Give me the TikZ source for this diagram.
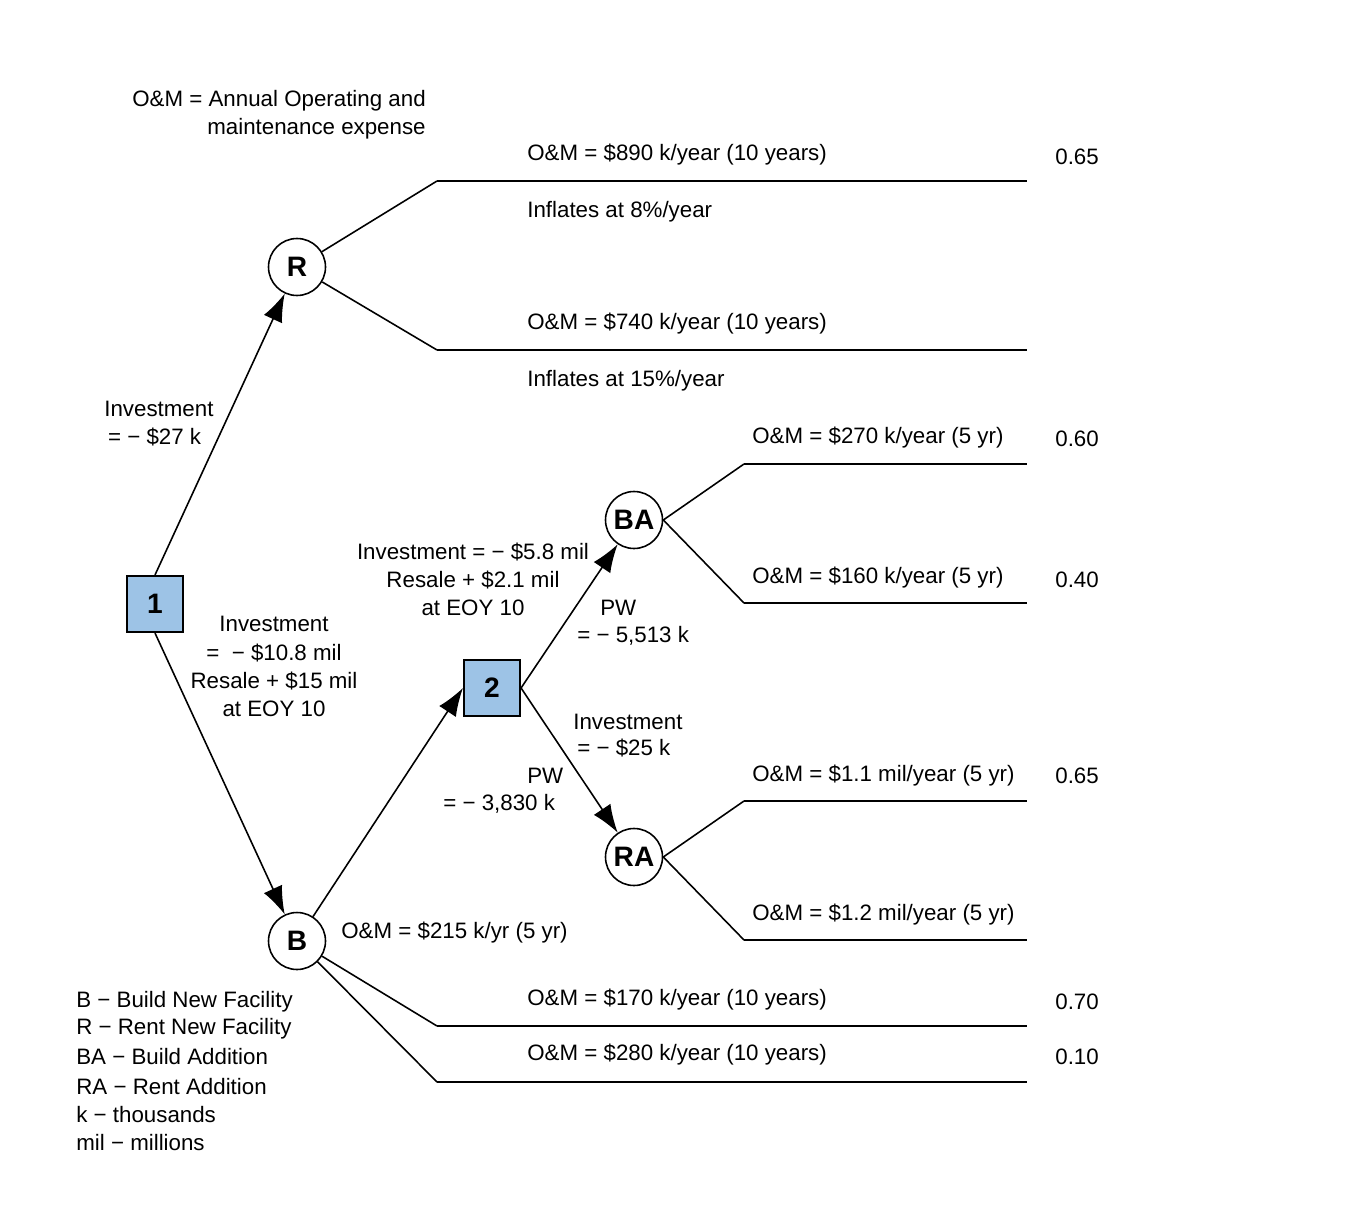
\documentclass[tikz,border=0pt]{standalone}
\usepackage{fontspec}
\setmainfont{Liberation Sans}
\usetikzlibrary{arrows.meta}
\definecolor{boxblue}{RGB}{157,195,230}
\tikzset{
  lbl/.style={inner sep=0pt, yshift=-0.05cm, font=\fontsize{12.7}{16}\selectfont},
  chance/.style={circle, draw, line width=0.9pt, minimum size=1.14cm, inner sep=0pt, font=\fontsize{16}{18}\selectfont\bfseries, fill=white},
  decision/.style={rectangle, draw, line width=1.2pt, fill=boxblue, minimum size=1.12cm, inner sep=0pt, font=\fontsize{16}{18}\selectfont\bfseries},
  ln/.style={line width=0.9pt},
  hln/.style={line width=1.1pt},
  arr/.style={line width=0.9pt, -{Latex[length=0.56cm,width=0.4cm]}}
}
\begin{document}
\begin{tikzpicture}[x=0.02cm,y=-0.02cm]
\useasboundingbox (0,0) rectangle (1358,1213);
% nodes
\node[decision] (n1) at (155,604) {1};
\node[decision] (n2) at (492,688) {2};
\node[chance] (R) at (297,267) {R};
\node[chance] (B) at (297,941) {B};
\node[chance] (BA) at (634,520) {BA};
\node[chance] (RA) at (634,857) {RA};
% end coordinates
\coordinate (r1a) at (437,181); \coordinate (r1b) at (1027,181);
\coordinate (r2a) at (437,350); \coordinate (r2b) at (1027,350);
\coordinate (ba1a) at (744,464); \coordinate (ba1b) at (1027,464);
\coordinate (ba2a) at (744,603); \coordinate (ba2b) at (1027,603);
\coordinate (ra1a) at (744,801); \coordinate (ra1b) at (1027,801);
\coordinate (ra2a) at (744,940); \coordinate (ra2b) at (1027,940);
\coordinate (b1a) at (437,1026); \coordinate (b1b) at (1027,1026);
\coordinate (b2a) at (437,1082); \coordinate (b2b) at (1027,1082);
% connectors
\draw[arr] (n1.north) -- (R);
\draw[arr] (n1.south) -- (B);
\draw[arr] (B) -- (n2.west);
\draw[arr] (n2.east) -- (BA);
\draw[arr] (n2.east) -- (RA);
\draw[ln] (R) -- (r1a); \draw[hln] (r1a) -- (r1b);
\draw[ln] (R) -- (r2a); \draw[hln] (r2a) -- (r2b);
\draw[ln] (BA.east) -- (ba1a); \draw[hln] (ba1a) -- (ba1b);
\draw[ln] (BA.east) -- (ba2a); \draw[hln] (ba2a) -- (ba2b);
\draw[ln] (RA.east) -- (ra1a); \draw[hln] (ra1a) -- (ra1b);
\draw[ln] (RA.east) -- (ra2a); \draw[hln] (ra2a) -- (ra2b);
\draw[ln] (B) -- (b1a); \draw[hln] (b1a) -- (b1b);
\draw[ln] (B) -- (b2a); \draw[hln] (b2a) -- (b2b);
% texts
\node[lbl, anchor=west] (t0a) at (132,98) {O\&M = Annual Operating and};
\node[lbl, anchor=west] (t0b) at (207,126) {maintenance expense};
\node[lbl, anchor=west] (t1) at (527,152) {O\&M = \$890 k/year (10 years)};
\node[lbl, anchor=west] (t2) at (527,209) {Inflates at 8\%/year};
\node[lbl, anchor=west] (t3) at (527,321) {O\&M = \$740 k/year (10 years)};
\node[lbl, anchor=west] (t4) at (527,378) {Inflates at 15\%/year};
\node[lbl, anchor=west] (p1) at (1055,154) {0.65};
\node[lbl, anchor=west, align=left] (inv1) at (104,421) {Investment\\\,= − \$27 k};
\node[lbl, align=center] (inv2) at (274,664) {Investment\\=\ \ − \$10.8 mil\\Resale + \$15 mil\\at EOY 10};
\node[lbl, align=center] (inv3) at (473,577) {Investment = − \$5.8 mil\\Resale + \$2.1 mil\\at EOY 10};
\node[lbl, anchor=west] (pw1a) at (600,605) {PW};
\node[lbl, anchor=west] (pw1b) at (577,633) {= − 5,513 k};
\node[lbl, anchor=west] (inv4a) at (573,719) {Investment};
\node[lbl, anchor=west] (inv4b) at (577,746) {= − \$25 k};
\node[lbl, anchor=west] (pw2a) at (527,773) {PW};
\node[lbl, anchor=west] (pw2b) at (443,801) {= − 3,830 k};
\node[lbl, anchor=west] (t5) at (341,930) {O\&M = \$215 k/yr (5 yr)};
\node[lbl, anchor=west] (t6) at (752,435) {O\&M = \$270 k/year (5 yr)};
\node[lbl, anchor=west] (p2) at (1055,436) {0.60};
\node[lbl, anchor=west] (t7) at (752,575) {O\&M = \$160 k/year (5 yr)};
\node[lbl, anchor=west] (p3) at (1055,577) {0.40};
\node[lbl, anchor=west] (t8) at (752,773) {O\&M = \$1.1 mil/year (5 yr)};
\node[lbl, anchor=west] (p4) at (1055,773) {0.65};
\node[lbl, anchor=west] (t9) at (752,912) {O\&M = \$1.2 mil/year (5 yr)};
\node[lbl, anchor=west] (t10) at (527,997) {O\&M = \$170 k/year (10 years)};
\node[lbl, anchor=west] (p5) at (1055,999) {0.70};
\node[lbl, anchor=west] (t11) at (527,1052) {O\&M = \$280 k/year (10 years)};
\node[lbl, anchor=west] (p6) at (1055,1054) {0.10};
% legend
\node[lbl, anchor=west] (l1) at (76,999) {B − Build New Facility};
\node[lbl, anchor=west] (l2) at (76,1026) {R − Rent New Facility};
\node[lbl, anchor=west] (l3) at (76,1054) {BA − Build Addition};
\node[lbl, anchor=west] (l4) at (76,1084) {RA − Rent Addition};
\node[lbl, anchor=west] (l5) at (76,1112) {k − thousands};
\node[lbl, anchor=west] (l6) at (76,1140) {mil − millions};
\end{tikzpicture}
\end{document}
